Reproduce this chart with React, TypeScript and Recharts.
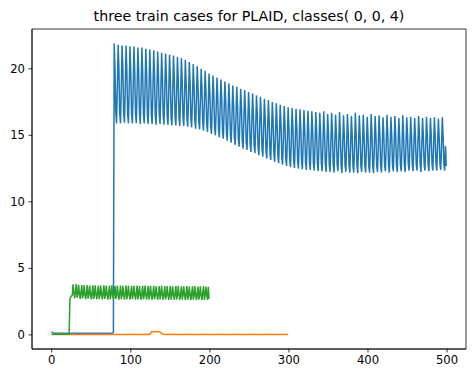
import React from "react";
import { LineChart, Line, XAxis, YAxis, ReferenceArea } from "recharts";

const TITLE = "three train cases for PLAID, classes( 0, 0, 4)";
const X_TICKS = [0, 100, 200, 300, 400, 500];
const Y_TICKS = [0, 5, 10, 15, 20];

// case 1 (class 0) – 500 samples
const blueSeries: number[] = [
  0.24, 0.17, 0.14, 0.13, 0.12, 0.13, 0.12, 0.12, 0.11, 0.12,
  0.13, 0.12, 0.12, 0.11, 0.12, 0.13, 0.12, 0.12, 0.12, 0.11,
  0.12, 0.13, 0.12, 0.12, 0.11, 0.12, 0.12, 0.13, 0.12, 0.12,
  0.11, 0.12, 0.12, 0.13, 0.12, 0.12, 0.11, 0.12, 0.12, 0.13,
  0.12, 0.12, 0.11, 0.12, 0.12, 0.13, 0.12, 0.12, 0.11, 0.12,
  0.12, 0.13, 0.12, 0.12, 0.11, 0.12, 0.12, 0.13, 0.12, 0.12,
  0.11, 0.12, 0.12, 0.13, 0.12, 0.12, 0.11, 0.12, 0.12, 0.13,
  0.12, 0.12, 0.11, 0.12, 0.12, 0.13, 0.12, 0.13, 0.18,
  21.9, 20.0, 16.7, 15.9, 18.6,
  21.8, 19.9, 16.6, 15.9, 18.6,
  21.75, 19.9, 16.65, 15.95, 18.55,
  21.75, 19.85, 16.6, 15.9, 18.5,
  21.7, 19.8, 16.6, 15.9, 18.5,
  21.68, 19.8, 16.62, 15.92, 18.5,
  21.6, 19.7, 16.6, 15.85, 18.4,
  21.6, 19.75, 16.6, 15.9, 18.45,
  21.5, 19.65, 16.55, 15.85, 18.4,
  21.45, 19.6, 16.55, 15.85, 18.35,
  21.4, 19.6, 16.5, 15.8, 18.3,
  21.3, 19.5, 16.55, 15.85, 18.3,
  21.2, 19.45, 16.5, 15.8, 18.25,
  21.15, 19.4, 16.45, 15.8, 18.2,
  21.05, 19.35, 16.4, 15.75, 18.15,
  21.0, 19.3, 16.4, 15.75, 18.1,
  20.9, 19.2, 16.35, 15.7, 18.05,
  20.8, 19.15, 16.35, 15.7, 18.0,
  20.65, 19.0, 16.3, 15.65, 17.9,
  20.5, 18.9, 16.2, 15.6, 17.8,
  20.35, 18.75, 16.1, 15.5, 17.7,
  20.2, 18.65, 16.05, 15.45, 17.6,
  20.0, 18.5, 15.95, 15.35, 17.45,
  19.85, 18.35, 15.85, 15.25, 17.3,
  19.65, 18.15, 15.65, 15.1, 17.15,
  19.5, 18.05, 15.55, 15.0, 17.0,
  19.35, 17.9, 15.4, 14.85, 16.9,
  19.2, 17.75, 15.3, 14.75, 16.75,
  19.05, 17.6, 15.15, 14.6, 16.6,
  18.9, 17.45, 15.0, 14.45, 16.45,
  18.75, 17.3, 14.85, 14.3, 16.3,
  18.65, 17.2, 14.7, 14.15, 16.2,
  18.5, 17.05, 14.55, 14.0, 16.05,
  18.4, 16.95, 14.45, 13.9, 15.95,
  18.25, 16.8, 14.3, 13.75, 15.8,
  18.15, 16.7, 14.2, 13.65, 15.7,
  18.0, 16.55, 14.05, 13.5, 15.55,
  17.9, 16.45, 13.95, 13.4, 15.45,
  17.75, 16.3, 13.8, 13.25, 15.3,
  17.65, 16.2, 13.7, 13.15, 15.2,
  17.5, 16.05, 13.55, 13.0, 15.05,
  17.4, 15.95, 13.45, 12.9, 14.95,
  17.3, 15.85, 13.35, 12.8, 14.85,
  17.2, 15.75, 13.25, 12.7, 14.75,
  17.1, 15.65, 13.15, 12.6, 14.65,
  17.05, 15.6, 13.1, 12.55, 14.6,
  17.0, 15.55, 13.05, 12.5, 14.55,
  16.95, 15.5, 13.0, 12.45, 14.5,
  16.9, 15.45, 12.95, 12.4, 14.45,
  16.85, 15.4, 12.95, 12.4, 14.4,
  16.8, 15.35, 12.9, 12.35, 14.35,
  16.75, 15.3, 12.85, 12.3, 14.3,
  16.7, 15.25, 12.85, 12.3, 14.3,
  16.8, 15.3, 12.85, 12.25, 14.3,
  16.6, 15.2, 12.8, 12.25, 14.25,
  16.7, 15.25, 12.8, 12.2, 14.25,
  16.55, 15.15, 12.8, 12.3, 14.25,
  16.75, 15.25, 12.75, 12.15, 14.2,
  16.5, 15.1, 12.75, 12.25, 14.2,
  16.6, 15.15, 12.75, 12.2, 14.2,
  16.45, 15.05, 12.7, 12.2, 14.15,
  16.7, 15.2, 12.75, 12.15, 14.2,
  16.5, 15.1, 12.7, 12.25, 14.15,
  16.55, 15.1, 12.7, 12.2, 14.15,
  16.4, 15.0, 12.7, 12.2, 14.1,
  16.6, 15.1, 12.7, 12.15, 14.15,
  16.45, 15.05, 12.7, 12.25, 14.15,
  16.5, 15.1, 12.75, 12.2, 14.15,
  16.35, 15.0, 12.75, 12.3, 14.15,
  16.55, 15.1, 12.75, 12.2, 14.15,
  16.4, 15.0, 12.75, 12.3, 14.15,
  16.45, 15.05, 12.75, 12.25, 14.15,
  16.3, 14.95, 12.75, 12.3, 14.1,
  16.5, 15.05, 12.8, 12.25, 14.2,
  16.35, 15.0, 12.8, 12.35, 14.15,
  16.4, 15.0, 12.8, 12.3, 14.15,
  16.3, 14.95, 12.8, 12.35, 14.15,
  16.45, 15.05, 12.8, 12.25, 14.15,
  16.3, 14.95, 12.8, 12.35, 14.15,
  16.4, 15.0, 12.8, 12.3, 14.15,
  16.3, 14.95, 12.8, 12.35, 14.15,
  16.35, 14.95, 12.85, 12.35, 14.2,
  16.25, 14.9, 12.85, 12.4, 14.15,
  16.35, 14.95, 12.85, 12.35, 14.2,
  12.7,
];

// case 2 (class 0) – 300 samples
const orangeSeries: number[] = [
  0.03, 0.03, 0.04, 0.03, 0.03, 0.03, 0.04, 0.03, 0.03, 0.03, 0.04, 0.03, 0.03, 0.03, 0.04, 0.03, 0.03, 0.03, 0.04, 0.03, 0.03, 0.03, 0.04, 0.03, 0.03,
  0.03, 0.04, 0.03, 0.03, 0.03, 0.04, 0.03, 0.03, 0.03, 0.04, 0.03, 0.03, 0.03, 0.04, 0.03, 0.03, 0.03, 0.04, 0.03, 0.03, 0.03, 0.04, 0.03, 0.03, 0.03,
  0.04, 0.03, 0.03, 0.03, 0.04, 0.03, 0.03, 0.03, 0.04, 0.03, 0.03, 0.03, 0.04, 0.03, 0.03, 0.03, 0.04, 0.03, 0.03, 0.03, 0.04, 0.03, 0.03, 0.03, 0.04,
  0.03, 0.03, 0.03, 0.04, 0.03, 0.03, 0.03, 0.04, 0.03, 0.03, 0.03, 0.04, 0.03, 0.03, 0.03, 0.04, 0.03, 0.03, 0.03, 0.04, 0.03, 0.03, 0.03, 0.04, 0.03,
  0.03, 0.03, 0.04, 0.03, 0.03, 0.03, 0.04, 0.03, 0.03, 0.03, 0.04, 0.03, 0.03, 0.03, 0.04, 0.03, 0.03, 0.03, 0.04, 0.03, 0.03, 0.03, 0.04, 0.03, 0.04,
  0.12, 0.21, 0.25, 0.24, 0.22, 0.24, 0.26, 0.25, 0.23, 0.22, 0.25, 0.24, 0.21, 0.16, 0.11, 0.08, 0.05, 0.04, 0.03, 0.03, 0.04, 0.03, 0.03, 0.03, 0.04,
  0.03, 0.03, 0.03, 0.04, 0.03, 0.03, 0.03, 0.04, 0.03, 0.03, 0.03, 0.04, 0.03, 0.03, 0.03, 0.04, 0.03, 0.03, 0.03, 0.04, 0.03, 0.03, 0.03, 0.04, 0.03,
  0.03, 0.03, 0.04, 0.03, 0.03, 0.03, 0.04, 0.03, 0.03, 0.03, 0.04, 0.03, 0.03, 0.03, 0.04, 0.03, 0.03, 0.03, 0.04, 0.03, 0.03, 0.03, 0.04, 0.03, 0.03,
  0.03, 0.04, 0.03, 0.03, 0.03, 0.04, 0.03, 0.03, 0.03, 0.04, 0.03, 0.03, 0.03, 0.04, 0.03, 0.03, 0.03, 0.04, 0.03, 0.03, 0.03, 0.04, 0.03, 0.03, 0.03,
  0.04, 0.03, 0.03, 0.03, 0.04, 0.03, 0.03, 0.03, 0.04, 0.03, 0.03, 0.03, 0.04, 0.03, 0.03, 0.03, 0.04, 0.03, 0.03, 0.03, 0.04, 0.03, 0.03, 0.03, 0.04,
  0.03, 0.03, 0.03, 0.04, 0.03, 0.03, 0.03, 0.04, 0.03, 0.03, 0.03, 0.04, 0.03, 0.03, 0.03, 0.04, 0.03, 0.03, 0.03, 0.04, 0.03, 0.03, 0.03, 0.04, 0.03,
  0.03, 0.03, 0.04, 0.03, 0.03, 0.03, 0.04, 0.03, 0.03, 0.03, 0.04, 0.03, 0.03, 0.03, 0.04, 0.03, 0.03, 0.03, 0.04, 0.03, 0.03, 0.03, 0.04, 0.03, 0.03,
];

// case 3 (class 4) – 200 samples
const greenSeries: number[] = [
  0.05, 0.04, 0.04, 0.05, 0.04, 0.04, 0.05, 0.04, 0.04, 0.05, 0.04, 0.04,
  0.05, 0.04, 0.04, 0.05, 0.04, 0.04, 0.05, 0.04, 0.04, 0.05, 0.05,
  2.7, 2.85, 2.92, 3.0,
  3.80, 3.12, 2.76, 3.26, 3.82, 2.80, 3.06,
  3.76, 3.08, 2.70, 3.22, 3.74, 2.74, 3.02,
  3.72, 3.06, 2.68, 3.20, 3.75, 2.72, 3.00,
  3.70, 3.04, 2.66, 3.18, 3.72, 2.70, 3.00,
  3.73, 3.05, 2.67, 3.20, 3.70, 2.71, 2.99,
  3.71, 3.04, 2.66, 3.19, 3.72, 2.70, 3.00,
  3.69, 3.03, 2.65, 3.18, 3.71, 2.69, 2.98,
  3.72, 3.05, 2.66, 3.19, 3.69, 2.70, 2.99,
  3.70, 3.04, 2.65, 3.18, 3.71, 2.69, 2.98,
  3.68, 3.03, 2.65, 3.17, 3.70, 2.68, 2.98,
  3.71, 3.04, 2.66, 3.18, 3.68, 2.69, 2.97,
  3.69, 3.03, 2.65, 3.17, 3.70, 2.68, 2.98,
  3.67, 3.02, 2.64, 3.16, 3.69, 2.68, 2.97,
  3.70, 3.03, 2.65, 3.17, 3.67, 2.67, 2.97,
  3.68, 3.02, 2.64, 3.16, 3.69, 2.68, 2.96,
  3.66, 3.01, 2.64, 3.15, 3.68, 2.67, 2.96,
  3.69, 3.02, 2.64, 3.16, 3.66, 2.67, 2.96,
  3.67, 3.01, 2.63, 3.15, 3.68, 2.66, 2.95,
  3.65, 3.00, 2.63, 3.14, 3.67, 2.66, 2.95,
  3.68, 3.01, 2.63, 3.15, 3.65, 2.66, 2.95,
  3.66, 3.00, 2.62, 3.14, 3.67, 2.65, 2.94,
  3.64, 2.99, 2.62, 3.13, 3.66, 2.65, 2.94,
  3.67, 3.00, 2.62, 3.14, 3.64, 2.65, 2.94,
  3.65, 2.99, 2.62, 3.13, 3.66, 2.64, 2.93,
  3.63, 3.00, 2.63, 3.62, 2.72,
];

const toPoints = (arr: number[]) => arr.map((y, i) => ({ x: i, y }));

const blueData = toPoints(blueSeries);
const orangeData = toPoints(orangeSeries);
const greenData = toPoints(greenSeries);

const X_DOMAIN: [number, number] = [-24.95, 523.95];
const Y_DOMAIN: [number, number] = [-1.06, 22.99];

const FONT = "DejaVu Sans";
const tickStyle = { fill: "#000", fontSize: 11.6, fontFamily: FONT };

export default function App() {
  return (
    <div style={{ position: "absolute", left: 0, top: 0, width: 474, height: 379, background: "#fff" }}>
      <svg width={474} height={30} style={{ position: "absolute", left: 0, top: 0 }}>
        <text x={249} y={21} textAnchor="middle" fontFamily={FONT} fontSize={14.2} fill="#000">
          {TITLE}
        </text>
      </svg>
      <div style={{ position: "absolute", left: 0, top: 0 }}>
        <LineChart width={474} height={379} margin={{ top: 29, right: 8, bottom: 0, left: 0 }}>
          <XAxis
            dataKey="x"
            type="number"
            domain={X_DOMAIN}
            ticks={X_TICKS}
            allowDataOverflow
            height={30}
            tick={tickStyle}
            tickSize={3.5}
            tickMargin={3.5}
            axisLine={{ stroke: "#000", strokeWidth: 0.8 }}
            tickLine={{ stroke: "#000", strokeWidth: 0.8 }}
          />
          <YAxis
            type="number"
            domain={Y_DOMAIN}
            ticks={Y_TICKS}
            allowDataOverflow
            width={32}
            tick={tickStyle}
            tickSize={3.5}
            tickMargin={3.5}
            axisLine={{ stroke: "#000", strokeWidth: 0.8 }}
            tickLine={{ stroke: "#000", strokeWidth: 0.8 }}
          />
          <ReferenceArea
            x1={X_DOMAIN[0]}
            x2={X_DOMAIN[1]}
            y1={Y_DOMAIN[0]}
            y2={Y_DOMAIN[1]}
            fill="none"
            stroke="#000"
            strokeWidth={0.8}
            ifOverflow="extendDomain"
          />
          <Line data={blueData} dataKey="y" type="linear" stroke="#1f77b4" strokeWidth={1.5} dot={false} isAnimationActive={false} />
          <Line data={orangeData} dataKey="y" type="linear" stroke="#ff7f0e" strokeWidth={1.5} dot={false} isAnimationActive={false} />
          <Line data={greenData} dataKey="y" type="linear" stroke="#2ca02c" strokeWidth={1.5} dot={false} isAnimationActive={false} />
        </LineChart>
      </div>
    </div>
  );
}
